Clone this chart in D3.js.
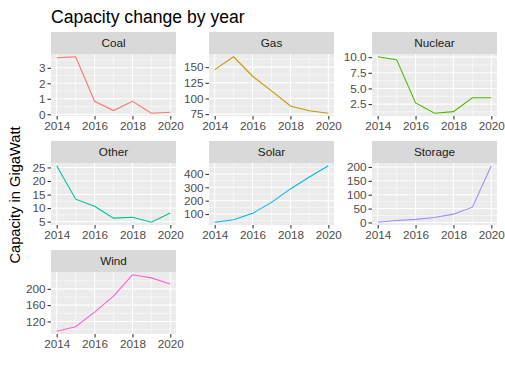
<!DOCTYPE html>
<html><head><meta charset="utf-8">
<script src="https://cdn.jsdelivr.net/npm/d3@7"></script>
<style>body{margin:0;background:#fff}svg{display:block;font-family:"Liberation Sans",Arial,sans-serif}</style>
</head><body><svg id="c" width="505" height="379"></svg>
<script>
const years = [2014, 2015, 2016, 2017, 2018, 2019, 2020];
const categories = ["Coal", "Gas", "Nuclear", "Other", "Solar", "Storage", "Wind"];
const coal    = [3.65, 3.71, 0.84, 0.24, 0.84, 0.07, 0.13];
const gas     = [146, 166.5, 135.5, 112, 88, 80.5, 76.5];
const nuclear = [10.05, 9.6, 2.7, 1.05, 1.3, 3.5, 3.5];
const other   = [25.6, 13.3, 10.7, 6.3, 6.6, 4.8, 8.2];
const solar   = [39, 57, 105, 187, 288, 377, 461];
const storage = [1, 7, 11, 18, 30, 55, 204];
const wind    = [96, 107, 143, 182, 234.5, 227, 212];
const xTicks = [2014, 2016, 2018, 2020];
const yTicksCoal = [0, 1, 2, 3];
const yTicksGas = [75, 100, 125, 150];
const yTicksNuclear = [2.5, 5.0, 7.5, 10.0];
const yTicksOther = [5, 10, 15, 20, 25];
const yTicksSolar = [100, 200, 300, 400];
const yTicksStorage = [0, 50, 100, 150, 200];
const yTicksWind = [120, 160, 200];
const colors = ["#F8766D", "#C49A00", "#53B400", "#00C094", "#00B6EB", "#A58AFF", "#FB61D7"];
const title = "Capacity change by year";
const yTitle = "Capacity in GigaWatt";

const seriesValues = [coal, gas, nuclear, other, solar, storage, wind];
const seriesTicks = [yTicksCoal, yTicksGas, yTicksNuclear, yTicksOther, yTicksSolar, yTicksStorage, yTicksWind];
const formats = [d3.format("d"), d3.format("d"), d3.format(".1f"), d3.format("d"), d3.format("d"), d3.format("d"), d3.format("d")];

const svg = d3.select("#c");
const colLeft = [51, 209, 372];
const panelW = 125;
const rowTop = [32, 141, 250];
const stripH = 22, panelH = 62;

svg.append("text").attr("x", 51).attr("y", 23).attr("font-size", 17.6).attr("fill", "#000").text(title);
svg.append("text").attr("transform", "translate(20,195) rotate(-90)").attr("text-anchor", "middle")
  .attr("font-size", 14.67).attr("fill", "#000").text(yTitle);

categories.forEach((cat, i) => {
  const col = i % 3, row = Math.floor(i / 3);
  const left = colLeft[col], top = rowTop[row];
  const pTop = top + stripH, pBot = pTop + panelH;
  const vals = seriesValues[i];
  const mn = d3.min(vals), mx = d3.max(vals), r = mx - mn;
  const x = d3.scaleLinear().domain([2014 - 0.3, 2020 + 0.3]).range([left, left + panelW]);
  const y = d3.scaleLinear().domain([mn - 0.05 * r, mx + 0.05 * r]).range([pBot, pTop]);
  const g = svg.append("g");
  // strip
  g.append("rect").attr("x", left).attr("y", top).attr("width", panelW).attr("height", stripH).attr("fill", "#D9D9D9");
  g.append("text").attr("x", left + panelW / 2).attr("y", top + stripH / 2 + 4).attr("text-anchor", "middle")
    .attr("font-size", 11.73).attr("fill", "#1A1A1A").text(cat);
  // panel
  g.append("rect").attr("x", left).attr("y", pTop).attr("width", panelW).attr("height", panelH).attr("fill", "#EBEBEB");
  const ticks = seriesTicks[i];
  const step = ticks[1] - ticks[0];
  const [d0, d1] = y.domain();
  const minor = [];
  for (let v = ticks[0] - step / 2; v <= d1; v += step) if (v >= d0) minor.push(v);
  const xMinor = [2015, 2017, 2019];
  g.selectAll(".ymn").data(minor).enter().append("line")
    .attr("x1", left).attr("x2", left + panelW).attr("y1", d => y(d)).attr("y2", d => y(d))
    .attr("stroke", "#fff").attr("stroke-width", 0.53);
  g.selectAll(".xmn").data(xMinor).enter().append("line")
    .attr("y1", pTop).attr("y2", pBot).attr("x1", d => x(d)).attr("x2", d => x(d))
    .attr("stroke", "#fff").attr("stroke-width", 0.53);
  g.selectAll(".ymj").data(ticks).enter().append("line")
    .attr("x1", left).attr("x2", left + panelW).attr("y1", d => y(d)).attr("y2", d => y(d))
    .attr("stroke", "#fff").attr("stroke-width", 1.07);
  g.selectAll(".xmj").data(xTicks).enter().append("line")
    .attr("y1", pTop).attr("y2", pBot).attr("x1", d => x(d)).attr("x2", d => x(d))
    .attr("stroke", "#fff").attr("stroke-width", 1.07);
  // line
  const line = d3.line().x((d, j) => x(years[j])).y(d => y(d));
  g.append("path").datum(vals).attr("d", line).attr("fill", "none").attr("stroke", colors[i]).attr("stroke-width", 1.07);
  // axes
  const yAxis = d3.axisLeft(y).tickValues(ticks).tickFormat(formats[i]).tickSize(3.5).tickPadding(2);
  const ya = g.append("g").attr("transform", `translate(${left},0)`).call(yAxis);
  const xAxis = d3.axisBottom(x).tickValues(xTicks).tickFormat(d3.format("d")).tickSize(3.5).tickPadding(2);
  const xa = g.append("g").attr("transform", `translate(0,${pBot})`).call(xAxis);
  [ya, xa].forEach(a => {
    a.select(".domain").remove();
    a.selectAll(".tick line").attr("stroke", "#333333").attr("stroke-width", 1.07);
    a.selectAll(".tick text").attr("fill", "#4D4D4D").attr("font-size", 11.73).attr("font-family", "Liberation Sans, Arial, sans-serif");
  });
});
</script></body></html>
